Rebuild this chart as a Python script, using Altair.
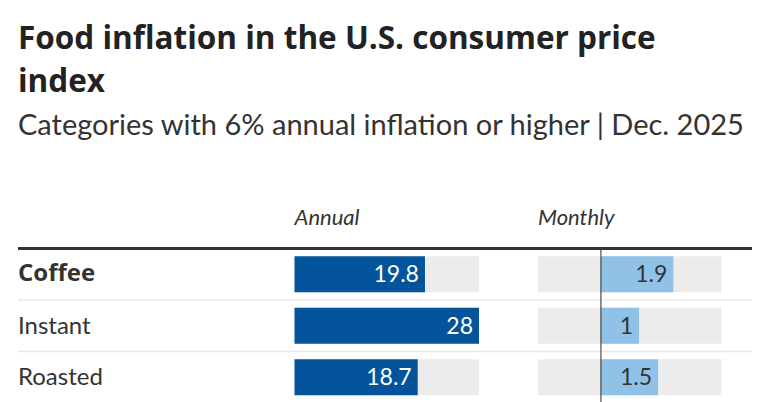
import altair as alt
import pandas as pd

# ---- data ----
CATEGORIES = ["Coffee", "Instant", "Roasted"]
ANNUAL = [19.8, 28, 18.7]
MONTHLY = [1.9, 1.0, 1.5]
BOLD_ROWS = ["Coffee"]
HEADER_ROW = "header"
COLUMN_HEADERS = ["Annual", "Monthly"]
MONTHLY_EXTENT = [-1.65, 3.17]

TITLE = ["Food inflation in the U.S. consumer price", "index"]
SUBTITLE = "Categories with 6% annual inflation or higher | Dec. 2025"

# ---- style ----
FONT = "Lato"
BOLD_FONT = "Open Sans"
DARK = "#333333"
BLUE_DARK = "#03549a"
BLUE_LIGHT = "#90c2e8"
BG = "#ececec"
W = 734
BAND = 51.5
BAR_H = 36

df = pd.DataFrame({"row": CATEGORIES, "annual": ANNUAL, "monthly": MONTHLY})
df["bold"] = df["row"].isin(BOLD_ROWS)
rows_df = pd.DataFrame({"row": [HEADER_ROW] + CATEGORIES})
hdr_df = pd.DataFrame({"row": [HEADER_ROW] * 2, "label": COLUMN_HEADERS})

ANNUAL_SCALE = alt.Scale(domain=[0, max(ANNUAL)], range=[276.5, 461])
MONTHLY_SCALE = alt.Scale(domain=MONTHLY_EXTENT, range=[520, 703.7])
Y = alt.Y("row:N", scale=alt.Scale(domain=[HEADER_ROW] + CATEGORIES,
                                   paddingInner=0, paddingOuter=0), axis=None)

base = alt.Chart(df)

rules = alt.Chart(rows_df).mark_rule().encode(
    y=alt.Y("row:N", bandPosition=1, axis=None),
    x=alt.value(0), x2=alt.value(W),
    color=alt.condition(alt.datum.row == HEADER_ROW, alt.value(DARK), alt.value("#e8e8e8")),
    strokeWidth=alt.condition(alt.datum.row == HEADER_ROW, alt.value(3), alt.value(1.5)),
)

annual_bg = base.transform_joinaggregate(amax="max(annual)").mark_bar(
    color=BG, height=BAR_H).encode(
    x=alt.X("amax:Q", scale=ANNUAL_SCALE, axis=None), y=Y)
annual_bar = base.mark_bar(color=BLUE_DARK, height=BAR_H).encode(
    x=alt.X("annual:Q", scale=ANNUAL_SCALE, axis=None), y=Y)
annual_txt = base.mark_text(align="right", dx=-6, color="white", font=FONT,
                            fontSize=23, baseline="middle", dy=1).encode(
    x=alt.X("annual:Q", scale=ANNUAL_SCALE, axis=None), y=Y,
    text=alt.Text("annual:Q", format=".4~g"))

monthly_bg = base.transform_calculate(
    lo=str(MONTHLY_EXTENT[0]), hi=str(MONTHLY_EXTENT[1])).mark_bar(
    color=BG, height=BAR_H).encode(
    x=alt.X("lo:Q", scale=MONTHLY_SCALE, axis=None), x2="hi:Q", y=Y)
monthly_bar = base.mark_bar(color=BLUE_LIGHT, height=BAR_H).encode(
    x=alt.X("monthly:Q", scale=MONTHLY_SCALE, axis=None), y=Y)
monthly_txt = base.mark_text(align="right", dx=-6, color=DARK, font=FONT,
                             fontSize=23, baseline="middle", dy=1).encode(
    x=alt.X("monthly:Q", scale=MONTHLY_SCALE, axis=None), y=Y,
    text=alt.Text("monthly:Q", format=".4~g"))
zero_line = base.mark_tick(color=DARK, thickness=1.5, size=BAND).encode(
    x=alt.X(datum=0, type="quantitative", scale=MONTHLY_SCALE, axis=None), y=Y)

labels = base.transform_filter("!datum.bold").mark_text(
    align="left", font=FONT, fontSize=24, color=DARK, baseline="middle", dy=1).encode(
    x=alt.value(0), y=Y, text="row:N")
labels_bold = base.transform_filter("datum.bold").mark_text(
    align="left", font=BOLD_FONT, fontSize=24, fontWeight="bold", color=DARK,
    baseline="middle", dy=0).encode(
    x=alt.value(0), y=Y, text="row:N")

hdr_annual = alt.Chart(hdr_df).transform_filter(
    alt.datum.label == COLUMN_HEADERS[0]).mark_text(
    align="left", baseline="alphabetic", dy=2, font=FONT, fontSize=22,
    fontStyle="italic", color=DARK).encode(
    x=alt.X(datum=0, type="quantitative", scale=ANNUAL_SCALE, axis=None),
    y=Y, text="label:N")
hdr_monthly = alt.Chart(hdr_df).transform_filter(
    alt.datum.label == COLUMN_HEADERS[1]).mark_text(
    align="left", baseline="alphabetic", dy=2, font=FONT, fontSize=22,
    fontStyle="italic", color=DARK).encode(
    x=alt.X(datum=MONTHLY_EXTENT[0], type="quantitative", scale=MONTHLY_SCALE, axis=None),
    y=Y, text="label:N")

chart = alt.layer(
    rules, annual_bg, annual_bar, annual_txt, monthly_bg, monthly_bar,
    monthly_txt, zero_line, labels, labels_bold, hdr_annual, hdr_monthly
).resolve_scale(x="independent").properties(
    width=W, height=BAND * 4,
    padding={"left": 8, "top": 15, "right": 5, "bottom": 5},
    title=alt.TitleParams(
        text=TITLE, subtitle=SUBTITLE, anchor="start", frame="group",
        font=BOLD_FONT, fontSize=31.5, fontWeight="bold", color="#222222", lineHeight=43,
        subtitleFont=FONT, subtitleFontSize=29, subtitleColor=DARK,
        subtitleLineHeight=34, subtitlePadding=14, offset=56),
).configure_view(stroke=None)

chart.save("out.html", embed_options={"renderer": "svg", "actions": False})
